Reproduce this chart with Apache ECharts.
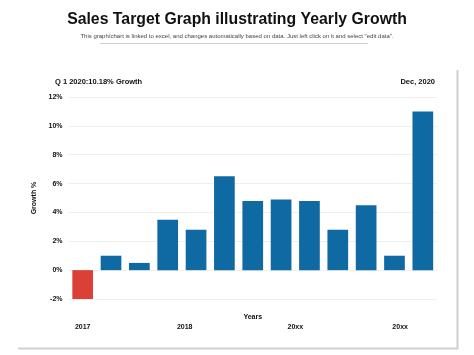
<!DOCTYPE html>
<html><head><meta charset="utf-8">
<script src="https://cdn.jsdelivr.net/npm/echarts@6/dist/echarts.min.js"></script>
<style>html,body{margin:0;padding:0;background:#fff}#c{width:474px;height:355px}</style>
</head><body><div id="c"></div>
<script>
var categories = ['1','2','3','4','5','6','7','8','9','10','11','12','13'];
var growthValues = [-2.0, 1.0, 0.5, 3.5, 2.8, 6.5, 4.8, 4.9, 4.8, 2.8, 4.5, 1.0, 11.0];
var yearLabels = ['2017', '2018', '20xx', '20xx'];
var yearLabelAt = [0, 3.6, 7.5, 11.2];
var yTicks = [-2, 0, 2, 4, 6, 8, 10, 12];

var bold = "'Liberation Sans', Arial, sans-serif";
var chart = echarts.init(document.getElementById('c'));
var option = {
  animation: false,
  backgroundColor: '#fff',
  grid: {left: 68.5, right: 37, top: 97, bottom: 56},
  xAxis: {
    type: 'category', data: categories,
    name: 'Years', nameLocation: 'middle', nameGap: 15,
    nameTextStyle: {fontFamily: bold, fontWeight: 'bold', fontSize: 7, color: '#111'},
    axisLine: {show: false}, axisTick: {show: false}, axisLabel: {show: false}
  },
  yAxis: {
    type: 'value', min: yTicks[0], max: yTicks[yTicks.length - 1], interval: 2,
    name: 'Growth %', nameLocation: 'middle', nameGap: 26, nameRotate: 90,
    nameTextStyle: {fontFamily: bold, fontWeight: 'bold', fontSize: 7, color: '#111'},
    axisLine: {show: false}, axisTick: {show: false},
    axisLabel: {formatter: '{value}%', fontFamily: bold, fontWeight: 'bold', fontSize: 7, color: '#111', margin: 6},
    splitLine: {lineStyle: {color: '#efefef', width: 1}}
  },
  series: [{
    type: 'bar', data: growthValues.map(function (v) {
      return {value: v, itemStyle: {color: v < 0 ? '#dc3f36' : '#0f6aa3'}};
    }),
    barCategoryGap: '27%'
  }]
};
chart.setOption(option);

var g = [
  {type: 'text', x: 237, y: 19, scaleX: 0.93,
   style: {text: 'Sales Target Graph illustrating Yearly Growth', font: 'bold 17px ' + bold, fill: '#111', textAlign: 'center', textVerticalAlign: 'middle'}},
  {type: 'text', x: 237, y: 36.5,
   style: {text: 'This graph/chart is linked to excel, and changes automatically based on data. Just left click on it and select "edit data".', font: '6px ' + bold, fill: '#444', textAlign: 'center', textVerticalAlign: 'middle'}},
  {type: 'text', left: 55, top: 78, style: {text: 'Q 1 2020:10.18% Growth', font: 'bold 7.5px ' + bold, fill: '#111'}},
  {type: 'text', right: 39, top: 78, style: {text: 'Dec, 2020', font: 'bold 7.5px ' + bold, fill: '#111'}},
  {type: 'line', shape: {x1: 100, y1: 43.5, x2: 368, y2: 43.5}, style: {stroke: '#d0d0d0', lineWidth: 1}},
  {type: 'line', shape: {x1: 457.5, y1: 70, x2: 457.5, y2: 349}, style: {stroke: '#cfcfcf', lineWidth: 2}},
  {type: 'line', shape: {x1: 18, y1: 348.5, x2: 458, y2: 348.5}, style: {stroke: '#cfcfcf', lineWidth: 2}}
];
yearLabels.forEach(function (t, i) {
  var px = chart.convertToPixel({xAxisIndex: 0}, 0);
  var px1 = chart.convertToPixel({xAxisIndex: 0}, 1);
  var x = px + (px1 - px) * yearLabelAt[i];
  g.push({type: 'text', x: x, y: 327, style: {text: t, font: 'bold 7px ' + bold, fill: '#111', textAlign: 'center', textVerticalAlign: 'middle'}});
});
chart.setOption({graphic: g});
</script></body></html>
